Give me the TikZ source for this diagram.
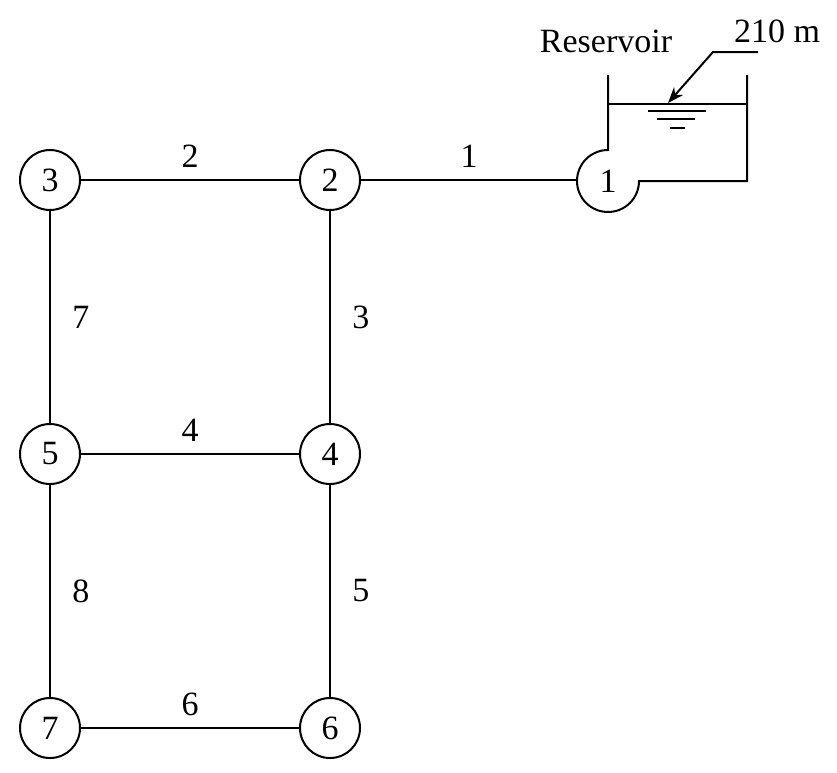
\documentclass[tikz,border=0pt]{standalone}
\usepackage{fontspec}
\setmainfont{Liberation Serif}
\usetikzlibrary{arrows.meta}
\begin{document}
\begin{tikzpicture}[x=1pt,y=-1pt,line width=2pt,
  nd/.style={circle,draw,minimum size=60pt,inner sep=0pt,font=\fontsize{34}{38}\selectfont},
  lb/.style={font=\fontsize{34}{38}\selectfont}]
\useasboundingbox (0,0) rectangle (837,772);
\node[nd] (n3) at (50,180) {3};
\node[nd] (n2) at (330,180) {2};
\node[nd] (n5) at (50,454) {5};
\node[nd] (n4) at (330,454) {4};
\node[nd] (n7) at (50,728) {7};
\node[nd] (n6) at (330,728) {6};
\node[lb] (t1) at (608,181) {1};
\coordinate (c1) at (577,180);
\draw (n3) -- (n2) node[lb,midway,above=8pt] {2};
\draw (n2) -- (c1) node[lb,midway,above=8pt] {1};
\draw (n3) -- (n5) node[lb,midway,right=18pt] {7};
\draw (n2) -- (n4) node[lb,midway,right=18pt] {3};
\draw (n5) -- (n4) node[lb,midway,above=8pt] {4};
\draw (n5) -- (n7) node[lb,midway,right=18pt] {8};
\draw (n4) -- (n6) node[lb,midway,right=18pt] {5};
\draw (n7) -- (n6) node[lb,midway,above=8pt] {6};
% reservoir
\draw (608,75) -- (608,150) arc[start angle=-90,end angle=-360,radius=31] -- (747,181) -- (747,75);
\draw (608,104) -- (747,104);
\draw (648,111) -- (706,111);
\draw (657,119) -- (695,119);
\draw (670,128) -- (685,128);
\draw[-{Stealth[length=16pt,width=12pt]}] (758,52) -- (713,52) -- (668,103);
\node[lb,anchor=base] (res) at (606,52) {Reservoir};
\node[lb,anchor=base] (h) at (777,42) {210 m};
\end{tikzpicture}
\end{document}
